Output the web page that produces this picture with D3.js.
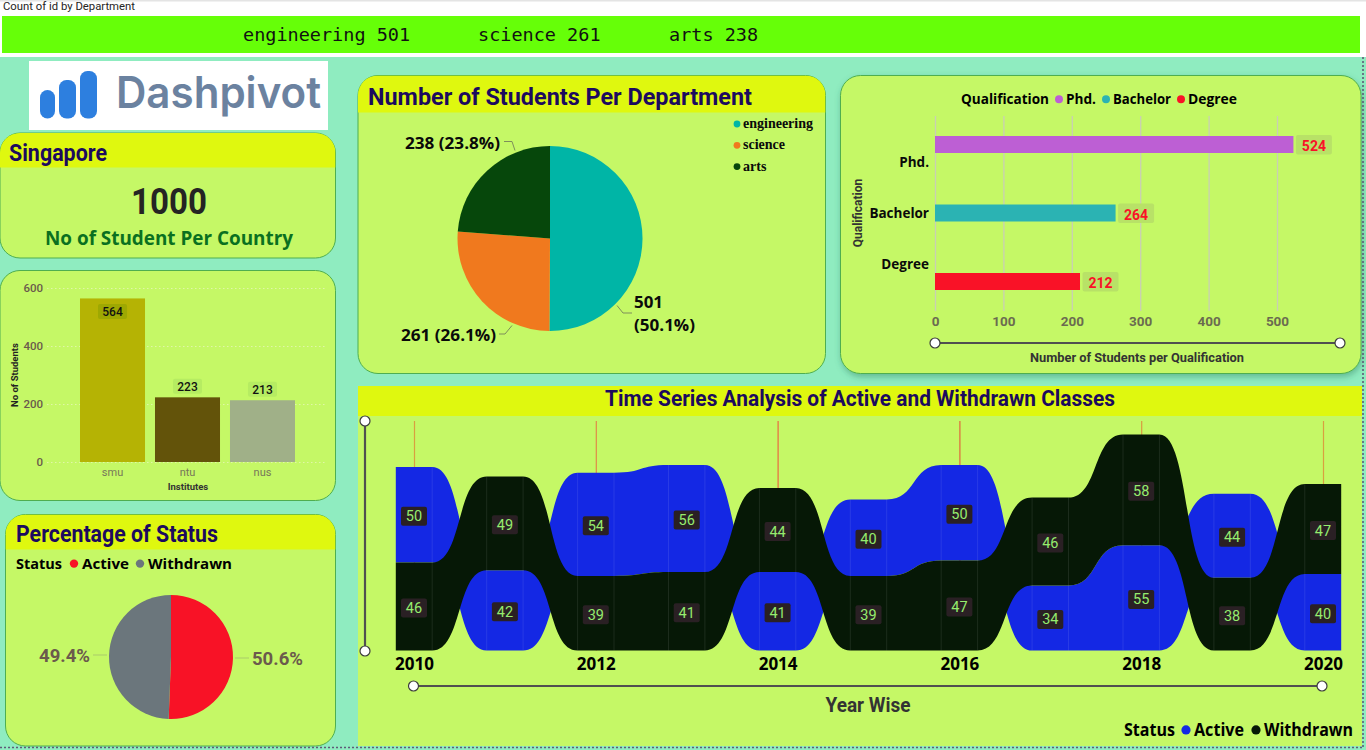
<!DOCTYPE html>
<html><head><meta charset="utf-8">
<script src="https://cdn.jsdelivr.net/npm/d3@7"></script>
<style>html,body{margin:0;padding:0;background:#fff;overflow:hidden}svg{display:block}</style>
</head><body><svg id="c" width="1366" height="750"></svg>
<script>
const departments=["engineering","science","arts"];
const departmentCounts=[501,261,238];
const departmentColors=["#00b5a6","#f0791e","#06470b"];
const institutes=["smu","ntu","nus"];
const instituteCounts=[564,223,213];
const instituteColors=["#b5b304","#63530a","#a0b088"];
const qualifications=["Phd.","Bachelor","Degree"];
const qualificationCounts=[524,264,212];
const qualificationColors=["#bd5fd4","#2bb3b3","#f91227"];
const statuses=["Active","Withdrawn"];
const statusPercents=[50.6,49.4];
const statusPieColors=["#f81226","#6b767c"];
const years=[2010,2011,2012,2013,2014,2015,2016,2017,2018,2019,2020];
const activeByYear=[50,42,54,56,41,40,50,34,55,44,40];
const withdrawnByYear=[46,49,39,41,44,39,47,46,58,38,47];
const ribbonColors=["#1428e4","#061806"];
const yearTicks=[2010,2012,2014,2016,2018,2020];
const yearTickColors=["#d9a040","#e08a48","#ea6a40","#e0683c","#d99a40","#d9a040"];

const svg=d3.select("#c");
const BG="#8fecc0",CARD="#c5f866",HEAD="#dff80f",NAVY="#1c0a5e",DIN="Roboto, 'Noto Sans', sans-serif",SEGOE="'Open Sans','Noto Sans',sans-serif",BROWN="#6b5a4c";
const defs=svg.append("defs");
const f=defs.append("filter").attr("id","sh").attr("x","-5%").attr("y","-5%").attr("width","112%").attr("height","115%");
f.append("feDropShadow").attr("dx",1).attr("dy",3).attr("stdDeviation",3).attr("flood-color","#2a7a5a").attr("flood-opacity",.45);

function T(g,x,y,s,o={}){
  const t=g.append("text").attr("x",x).attr("y",y).text(s)
   .attr("font-family",o.font||DIN).attr("font-size",o.size||12).attr("font-weight",o.weight||"normal")
   .attr("fill",o.fill||"#000").attr("text-anchor",o.anchor||"start");
  if(o.width)t.attr("textLength",o.width).attr("lengthAdjust","spacingAndGlyphs");
  if(o.rotate)t.attr("transform",`rotate(${o.rotate} ${x} ${y})`);
  return t;
}
function card(id,x,y,w,h,r,headH,title,o={}){
  const g=svg.append("g");
  defs.append("clipPath").attr("id","cp"+id).append("rect").attr("x",x).attr("y",y).attr("width",w).attr("height",h).attr("rx",r);
  g.append("rect").attr("x",x).attr("y",y).attr("width",w).attr("height",h).attr("rx",r).attr("fill",CARD)
    .attr("stroke",r?"#4fae50":"none").attr("stroke-width",1).attr("filter",o.shadow?"url(#sh)":null);
  if(headH){
    g.append("rect").attr("x",x).attr("y",y).attr("width",w).attr("height",headH).attr("fill",HEAD).attr("clip-path",`url(#cp${id})`);
    T(g,o.tx,o.ty,title,{size:o.size,weight:"bold",fill:NAVY,width:o.tw,anchor:o.anchor});
  }
  return g;
}
function legend(g,y,size,items,dotR){
  items.forEach(i=>{
    if(i.dot!==undefined)g.append("circle").attr("cx",i.dot).attr("cy",y-size*.36).attr("r",dotR).attr("fill",i.color);
    T(g,i.x,y,i.text,{font:SEGOE,size,weight:"bold",width:i.w});
  });
}
function handle(g,x,y){g.append("circle").attr("cx",x).attr("cy",y).attr("r",5).attr("fill","#fff").attr("stroke","#3c3c3c").attr("stroke-width",1.2);}
function slider(g,x1,y1,x2,y2){
  g.append("line").attr("x1",x1).attr("y1",y1).attr("x2",x2).attr("y2",y2).attr("stroke","#505050").attr("stroke-width",2.2);
  handle(g,x1,y1);handle(g,x2,y2);
}
function styleAxis(ax,o){
  ax.select(".domain").remove();
  ax.selectAll("text").attr("font-family",o.font||DIN).attr("font-size",o.size).attr("font-weight",o.weight||"normal").attr("fill",o.fill);
}

/* page */
svg.append("rect").attr("width",1366).attr("height",750).attr("fill","#fff");
svg.append("rect").attr("y",0).attr("width",1366).attr("height",1.5).attr("fill","#e4e4e4");
svg.append("rect").attr("y",57).attr("width",1366).attr("height",693).attr("fill",BG);
T(svg,3,10,"Count of id by Department",{font:"Roboto, sans-serif",size:10.5,fill:"#252423",width:132});
svg.append("rect").attr("x",2).attr("y",16).attr("width",1358).attr("height",37).attr("fill","#66ff08");
const tickerX=[243,478,669],tickerG=svg.append("g");
departments.forEach((d,i)=>T(tickerG,tickerX[i],41,`${d} ${departmentCounts[i]}`,{font:"'DejaVu Sans Mono',monospace",size:18.5,fill:"#111"}));

/* logo */
const logo=svg.append("g");
logo.append("rect").attr("x",29).attr("y",61).attr("width",299).attr("height",69).attr("fill","#fff");
const logoBars=[[40,15,90],[59,17,80],[80,17,71]];
logoBars.forEach(b=>logo.append("rect").attr("x",b[0]).attr("y",b[2]).attr("width",b[1]).attr("height",118.5-b[2]).attr("rx",7.5).attr("fill","#2d7fdf"));
T(logo,116,108,"Dashpivot",{font:"Inter,sans-serif",size:44,weight:600,fill:"#6b82a0",width:205});

/* Singapore */
const c1=card(1,0,133,335.5,125,20,34.5,"Singapore",{tx:9,ty:161,size:23,tw:98});
T(c1,169,214,"1000",{size:37,weight:"bold",fill:"#252423",anchor:"middle",width:76});
T(c1,169,245,"No of Student Per Country",{font:SEGOE,size:20,weight:"bold",fill:"#0a7020",anchor:"middle",width:248});

/* Institutes */
const c2=card(2,0,270.5,335.5,230,20,0);
const xInst=d3.scaleBand().domain(institutes).range([80,295]).paddingInner(.133).paddingOuter(0);
const yInst=d3.scaleLinear().domain([0,600]).range([462,288]);
const ax2y=c2.append("g").attr("transform","translate(47,0)").call(d3.axisLeft(yInst).tickValues([0,200,400,600]).tickSize(-280).tickPadding(4));
styleAxis(ax2y,{size:11.5,fill:BROWN,weight:500});
ax2y.selectAll("line").attr("stroke","#e0f6a8").attr("stroke-dasharray","1.5 2.5");
const ax2x=c2.append("g").attr("transform","translate(0,462)").call(d3.axisBottom(xInst).tickSize(0).tickPadding(6));
styleAxis(ax2x,{size:11,fill:"#77775a"});
c2.selectAll("rect.b").data(institutes).join("rect").attr("class","b")
  .attr("x",d=>xInst(d)).attr("width",xInst.bandwidth())
  .attr("y",(d,i)=>yInst(instituteCounts[i])).attr("height",(d,i)=>yInst(0)-yInst(instituteCounts[i]))
  .attr("fill",(d,i)=>instituteColors[i]);
institutes.forEach((d,i)=>{
  const v=instituteCounts[i],cx=xInst(d)+xInst.bandwidth()/2,inside=v>400;
  const cy=inside?yInst(v)+13:yInst(v)-11;
  c2.append("rect").attr("x",cx-14.5).attr("y",cy-7.5).attr("width",29).attr("height",15).attr("rx",2).attr("fill",inside?"#9ea802":"#b6ec62");
  T(c2,cx,cy+4.5,v,{size:12,anchor:"middle",fill:"#111",weight:500});
});
T(c2,188,490,"Institutes",{size:9.5,weight:"bold",anchor:"middle",fill:"#333"});
T(c2,18,375,"No of Students",{size:9.5,weight:"bold",anchor:"middle",fill:"#222",rotate:-90});

/* Status pie */
const c3=card(3,5.5,514.5,330,231.5,20,35,"Percentage of Status",{tx:16,ty:542,size:23,tw:202});
legend(c3,569,15,[{x:16,text:"Status",w:46},{dot:74,color:statusPieColors[0],x:82,text:"Active",w:47},{dot:140,color:statusPieColors[1],x:148,text:"Withdrawn",w:84}],4.2);
const pie=d3.pie().sort(null).value(d=>d);
const p3=c3.append("g").attr("transform","translate(171,657)");
const arc3=d3.arc().innerRadius(0).outerRadius(62);
p3.selectAll("path").data(pie(statusPercents)).join("path").attr("d",arc3).attr("fill",(d,i)=>statusPieColors[i]);
const line=d3.line();
function i0(d){return d.index?-2:1;}
p3.selectAll("path.l").data(pie(statusPercents)).join("path").attr("class","l").attr("fill","none").attr("stroke","#aacb6a").attr("stroke-width",1)
  .attr("d",d=>{const a=(d.startAngle+d.endAngle)/2,sx=Math.sin(a);return line([[sx*64,i0(d)],[sx*78,i0(d)]]);});
pie(statusPercents).forEach((d,i)=>{
  const a=(d.startAngle+d.endAngle)/2,sx=Math.sin(a);
  T(p3,sx*81,i0(d)+7,d3.format(".1f")(d.data)+"%",{size:19,weight:"bold",fill:BROWN,anchor:sx>0?"start":"end",width:51});
});

/* Department pie */
const c4=card(4,358,75.5,467.5,298,20,37,"Number of Students Per Department",{tx:368,ty:105,size:24,tw:384});
const p4=c4.append("g").attr("transform","translate(550,238.5)");
const arc4=d3.arc().innerRadius(0).outerRadius(92.5);
const total4=d3.sum(departmentCounts);
p4.selectAll("path").data(pie(departmentCounts)).join("path").attr("d",arc4).attr("fill",(d,i)=>departmentColors[i]);
const leaders4=[[[67,67],[73,74.5],[82,74.5]],[[-38,87],[-45,95.5],[-51,95.5]],[[-35,-88],[-38,-97],[-46,-97]]];
leaders4.forEach(l=>p4.append("path").attr("d",line(l)).attr("fill","none").attr("stroke","#7e8f5a").attr("stroke-width",1));
const lab=i=>`${departmentCounts[i]} (${d3.format(".1f")(departmentCounts[i]/total4*100)}%)`;
const labStyle={font:SEGOE,size:16,weight:700,fill:"#0a0a0a"};
T(c4,634,308,departmentCounts[0],{...labStyle,width:29});
T(c4,634,331,`(${d3.format(".1f")(departmentCounts[0]/total4*100)}%)`,{...labStyle,width:61});
T(c4,496,341,lab(1),{...labStyle,anchor:"end",width:95});
T(c4,500,149,lab(2),{...labStyle,anchor:"end",width:95});
departments.forEach((d,i)=>{
  const y=124+i*21.3;
  c4.append("circle").attr("cx",737).attr("cy",y).attr("r",3.4).attr("fill",departmentColors[i]);
  T(c4,743,y+4,d,{font:"'Liberation Serif',serif",size:14,weight:"bold",fill:"#0a0a0a"});
});

/* Qualification */
const c5=card(5,840.5,75.5,520.5,298,20,0,"",{shadow:true});
legend(c5,104,13.5,[{x:961,text:"Qualification",w:88},{dot:1059,color:qualificationColors[0],x:1066,text:"Phd.",w:30},{dot:1106,color:qualificationColors[1],x:1113,text:"Bachelor",w:58},{dot:1181,color:qualificationColors[2],x:1188,text:"Degree",w:49}],4);
const xQ=d3.scaleLinear().domain([0,500]).range([935,1277]);
const yQlabel=d3.scalePoint().domain(qualifications).range([162,264]);
const ax5=c5.append("g").attr("transform","translate(0,311)").call(d3.axisBottom(xQ).tickValues([0,100,200,300,400,500]).tickSize(-195).tickPadding(5));
styleAxis(ax5,{size:13.5,weight:"bold",fill:"#6b6b50"});
ax5.selectAll("line").attr("stroke","#c9cfb4").attr("stroke-width",1.3);
const barH=17,qTop=i=>136+i*68.5;
c5.selectAll("rect.q").data(qualifications).join("rect").attr("class","q")
  .attr("x",xQ(0)).attr("y",(d,i)=>qTop(i)).attr("height",barH)
  .attr("width",(d,i)=>xQ(qualificationCounts[i])-xQ(0)).attr("fill",(d,i)=>qualificationColors[i]);
qualifications.forEach((d,i)=>{
  const x=xQ(qualificationCounts[i]);
  c5.append("rect").attr("x",x+2.5).attr("y",qTop(i)-1).attr("width",36).attr("height",19.5).attr("rx",2).attr("fill","#b8e267");
  T(c5,x+20.5,qTop(i)+15,qualificationCounts[i],{size:14,weight:"bold",fill:"#f91227",anchor:"middle"});
  T(c5,929,yQlabel(d)+5,d,{font:SEGOE,size:13.5,weight:"bold",anchor:"end",fill:"#0a0a0a"});
});
T(c5,862,213,"Qualification",{size:12,weight:"bold",anchor:"middle",fill:"#333",rotate:-90});
slider(c5,935,343,1340,343);
T(c5,1137,362,"Number of Students per Qualification",{size:12,weight:"bold",anchor:"middle",fill:"#333",width:214});

/* Ribbon */
const c6=card(6,358,386,1004,360,0,30,"Time Series Analysis of Active and Withdrawn Classes",{tx:860,ty:406,size:22,tw:510,anchor:"middle"});
const xY=d3.scaleLinear().domain([2010,2020]).range([414,1323]);
const yY=d3.scaleLinear().domain([0,120]).range([650.5,421]);
const hw=18.2,K=.56;
const ax6=c6.append("g").attr("transform","translate(0,650.5)").call(d3.axisBottom(xY).tickValues(yearTicks).tickFormat(d3.format("d")).tickSize(-229.5).tickPadding(7));
styleAxis(ax6,{font:SEGOE,size:17,weight:"bold",fill:"#000"});
ax6.selectAll("line").attr("stroke",(d,i)=>yearTickColors[i]).attr("stroke-width",1.2);
const byStatus=[activeByYear,withdrawnByYear];
const bands=years.map((y,i)=>{
  const a=activeByYear[i],w=withdrawnByYear[i];
  const activeTop=a>=w;
  return [activeTop?{b:w,t:w+a}:{b:0,t:a},activeTop?{b:0,t:w}:{b:a,t:a+w}];
});
function ribbonPath(s){
  const p=d3.path();
  const edge=(key,idx,rev)=>{
    const v=i=>yY(bands[i][s][key]);
    const seq=rev?idx.slice().reverse():idx;
    seq.forEach((i,n)=>{
      const cx=xY(years[i]),a=rev?cx+hw:cx-hw,b=rev?cx-hw:cx+hw;
      if(n===0){ if(rev)p.lineTo(a,v(i)); else p.moveTo(a,v(i)); }
      else{
        const pv=seq[n-1],px=xY(years[pv])+(rev?-hw:hw),gap=a-px;
        p.bezierCurveTo(px+K*gap,v(pv),a-K*gap,v(i),a,v(i));
      }
      p.lineTo(b,v(i));
    });
  };
  const idx=years.map((y,i)=>i);
  edge("t",idx,false);edge("b",idx,true);p.closePath();
  return p.toString();
}
const ribbons=c6.append("g");
[0,1].forEach(s=>ribbons.append("path").attr("d",ribbonPath(s)).attr("fill",ribbonColors[s]));
years.forEach((yr,i)=>{
  [0,1].forEach(s=>{
    const B=bands[i][s];
    [-hw,hw].forEach(dx=>{ if(i===0&&dx<0)return; if(i===10&&dx>0)return;
      c6.append("line").attr("x1",xY(yr)+dx).attr("x2",xY(yr)+dx).attr("y1",yY(B.b)).attr("y2",yY(B.t)).attr("stroke","#fff").attr("stroke-opacity",.09);
    });
  });
});
years.forEach((yr,i)=>{
  [0,1].forEach(s=>{
    const B=bands[i][s],cy=(yY(B.b)+yY(B.t))/2+1.5,cx=xY(yr);
    c6.append("rect").attr("x",cx-13).attr("y",cy-9.5).attr("width",26).attr("height",19).attr("rx",2).attr("fill","#2a2024");
    T(c6,cx,cy+5,byStatus[s][i],{size:14.5,fill:"#96ec6e",anchor:"middle"});
  });
});
slider(c6,365,421,365,651);
slider(c6,413.5,686,1322,686);
T(c6,868,712,"Year Wise",{size:20,weight:"bold",anchor:"middle",fill:"#333",width:85});
legend(c6,736,17,[{x:1124,text:"Status",w:51},{dot:1186,color:ribbonColors[0],x:1194,text:"Active",w:50},{dot:1256,color:ribbonColors[1],x:1264,text:"Withdrawn",w:89}],4.6);

/* dotted frame */
svg.append("line").attr("x1",0).attr("x2",1363).attr("y1",747.5).attr("y2",747.5).attr("stroke","#5f5a78").attr("stroke-width",1.6).attr("stroke-dasharray","2 2");
svg.append("line").attr("x1",1363).attr("x2",1363).attr("y1",57).attr("y2",747.5).attr("stroke","#5f5a78").attr("stroke-width",1.6).attr("stroke-dasharray","2 2");
</script></body></html>
